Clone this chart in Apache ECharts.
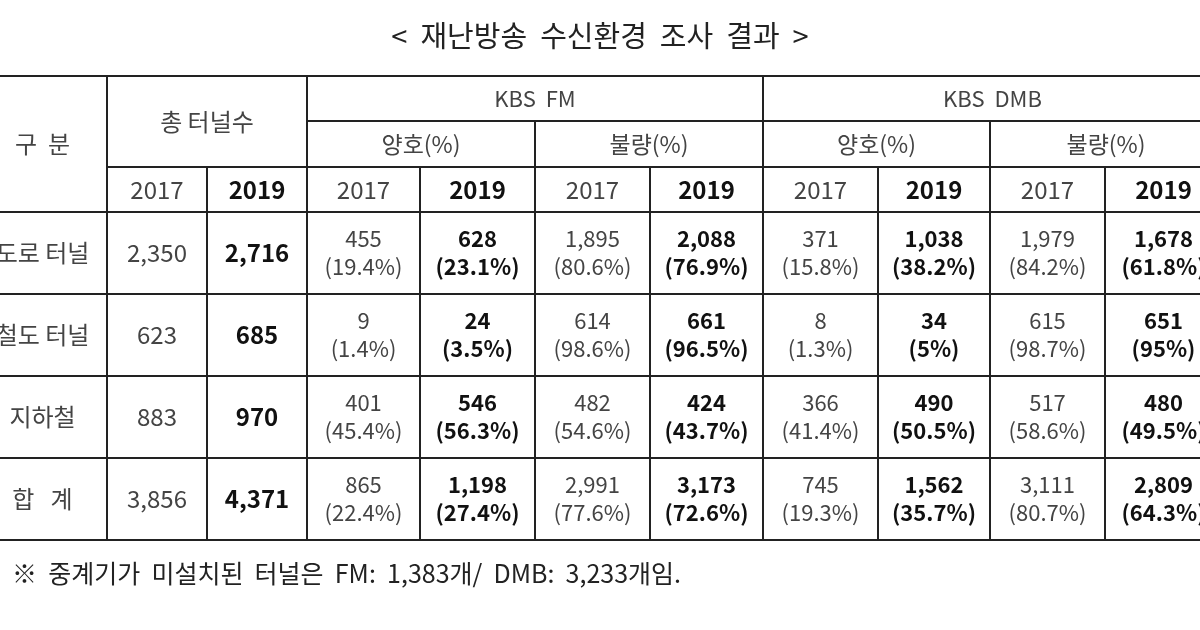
<!DOCTYPE html>
<html><head><meta charset="utf-8">
<script src="https://cdn.jsdelivr.net/npm/echarts@6/dist/echarts.min.js"></script>
<style>html,body{margin:0;padding:0;background:#fff}#c{width:1200px;height:630px}</style>
</head><body><div id="c"></div>
<script>
const title = '<  재난방송  수신환경  조사  결과  >';
const footnote = '※  중계기가  미설치된  터널은  FM:  1,383개/  DMB:  3,233개임.';
const rowLabels = ['도로 터널','철도 터널','지하철','합   계'];
const years = ['2017','2019'];
const totals2017 = ['2,350','623','883','3,856'];
const totals2019 = ['2,716','685','970','4,371'];
const fmGood2017 = ['455\n(19.4%)','9\n(1.4%)','401\n(45.4%)','865\n(22.4%)'];
const fmGood2019 = ['628\n(23.1%)','24\n(3.5%)','546\n(56.3%)','1,198\n(27.4%)'];
const fmBad2017 = ['1,895\n(80.6%)','614\n(98.6%)','482\n(54.6%)','2,991\n(77.6%)'];
const fmBad2019 = ['2,088\n(76.9%)','661\n(96.5%)','424\n(43.7%)','3,173\n(72.6%)'];
const dmbGood2017 = ['371\n(15.8%)','8\n(1.3%)','366\n(41.4%)','745\n(19.3%)'];
const dmbGood2019 = ['1,038\n(38.2%)','34\n(5%)','490\n(50.5%)','1,562\n(35.7%)'];
const dmbBad2017 = ['1,979\n(84.2%)','615\n(98.7%)','517\n(58.6%)','3,111\n(80.7%)'];
const dmbBad2019 = ['1,678\n(61.8%)','651\n(95%)','480\n(49.5%)','2,809\n(64.3%)'];

// layout (pixel grid)
const colX = [-22,107,207,307,420,535,650,763,878,990,1105,1222];
const rowY = [76,121,167,212,294,376,458,540];

const dataCols = [totals2017,totals2019,fmGood2017,fmGood2019,fmBad2017,fmBad2019,dmbGood2017,dmbGood2019,dmbBad2017,dmbBad2019];
const cells = [];
function cell(c0,c1,r0,r1,text,bold,size){cells.push([colX[c0],colX[c1],rowY[r0],rowY[r1],text,bold?1:0,size||22]);}
cell(0,1,0,3,'구  분',0,24);
cell(1,3,0,2,'총 터널수',0,24);
cell(3,7,0,1,'KBS  FM',0,22);
cell(7,11,0,1,'KBS  DMB',0,22);
cell(3,5,1,2,'양호(%)',0,23);
cell(5,7,1,2,'불량(%)',0,23);
cell(7,9,1,2,'양호(%)',0,23);
cell(9,11,1,2,'불량(%)',0,23);
for(let k=0;k<10;k++) cell(k+1,k+2,2,3,years[k%2],k%2===1,24);
rowLabels.forEach((l,i)=>{
  cell(0,1,3+i,4+i,l,0,24);
  dataCols.forEach((col,k)=>cell(k+1,k+2,3+i,4+i,col[i],k%2===1,k<2?24:22));
});

const chart = echarts.init(document.getElementById('c'));
chart.setOption({
  backgroundColor:'#fff',
  animation:false,
  title:{text:title,left:'center',top:16,textStyle:{fontFamily:'Noto Sans CJK KR',fontSize:29,fontWeight:'normal',color:'#222'}},
  graphic:[{type:'text',left:12,top:561,style:{text:footnote,font:'25px "Noto Sans CJK KR"',fill:'#222'}}],
  grid:{left:0,right:0,top:0,bottom:0},
  xAxis:{type:'value',min:0,max:1200,show:false},
  yAxis:{type:'value',min:0,max:630,inverse:true,show:false},
  series:[{
    type:'custom',
    data:cells,
    encode:{x:[0,1],y:[2,3]},
    clip:false,
    renderItem:function(params,api){
      const p0=api.coord([api.value(0),api.value(2)]);
      const p1=api.coord([api.value(1),api.value(3)]);
      const d=cells[params.dataIndex];
      return {type:'group',children:[
        {type:'rect',shape:{x:p0[0],y:p0[1],width:p1[0]-p0[0],height:p1[1]-p0[1]},style:{fill:'#fff',stroke:'#222',lineWidth:2}},
        {type:'text',x:(p0[0]+p1[0])/2,y:(p0[1]+p1[1])/2,style:{text:d[4],align:'center',verticalAlign:'middle',
          font:(d[5]?'bold ':'')+d[6]+'px "Noto Sans CJK KR"',fill:d[5]?'#111':'#444',lineHeight:d[6]+6}}
      ]};
    }
  }]
});
</script></body></html>
